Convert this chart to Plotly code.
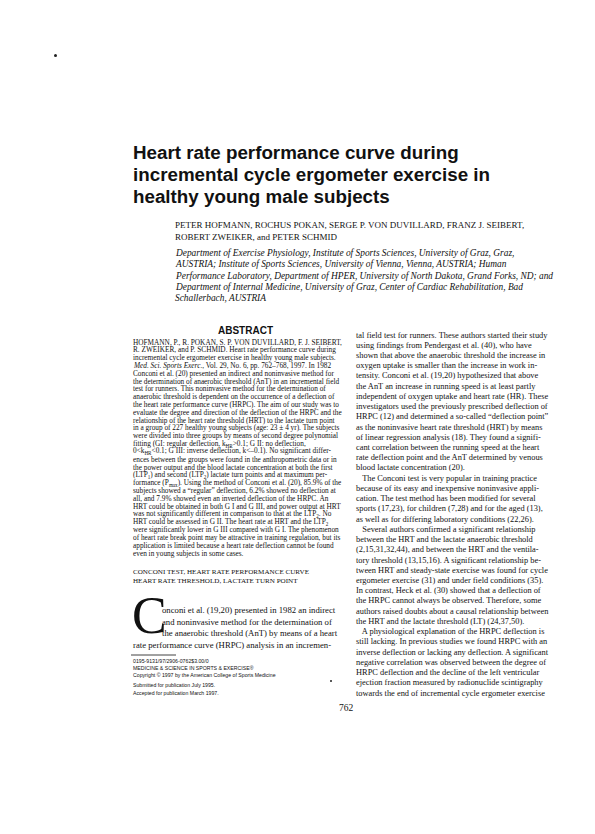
import plotly.graph_objects as go

title_lines = ["Heart rate performance curve during",
               "incremental cycle ergometer exercise in",
               "healthy young male subjects"]

author_lines = ["PETER HOFMANN, ROCHUS POKAN, SERGE P. VON DUVILLARD, FRANZ J. SEIBERT,",
                "ROBERT ZWEIKER, and PETER SCHMID"]

affil_lines = ["Department of Exercise Physiology, Institute of Sports Sciences, University of Graz, Graz,",
               "AUSTRIA; Institute of Sports Sciences, University of Vienna, Vienna, AUSTRIA; Human",
               "Performance Laboratory, Department of HPER, University of North Dakota, Grand Forks, ND; and",
               "Department of Internal Medicine, University of Graz, Center of Cardiac Rehabilitation, Bad",
               "Schallerbach, AUSTRIA"]

abstract_lines = [
    "HOFMANN, P., R. POKAN, S. P. VON DUVILLARD, F. J. SEIBERT,",
    "R. ZWEIKER, and P. SCHMID. Heart rate performance curve during",
    "incremental cycle ergometer exercise in healthy young male subjects.",
    "<i>Med. Sci. Sports Exerc.</i>, Vol. 29, No. 6, pp. 762–768, 1997. In 1982",
    "Conconi et al. (20) presented an indirect and noninvasive method for",
    "the determination of anaerobic threshold (AnT) in an incremental field",
    "test for runners. This noninvasive method for the determination of",
    "anaerobic threshold is dependent on the occurrence of a deflection of",
    "the heart rate performance curve (HRPC). The aim of our study was to",
    "evaluate the degree and direction of the deflection of the HRPC and the",
    "relationship of the heart rate threshold (HRT) to the lactate turn point",
    "in a group of 227 healthy young subjects (age: 23 ± 4 yr). The subjects",
    "were divided into three groups by means of second degree polynomial",
    "fitting (GI: regular deflection, k<sub>HR</sub>>0.1; G II: no deflection,",
    "0<k<sub>HR</sub><0.1; G III: inverse deflection, k<–0.1). No significant differ-",
    "ences between the groups were found in the anthropometric data or in",
    "the power output and the blood lactate concentration at both the first",
    "(LTP<sub>1</sub>) and second (LTP<sub>2</sub>) lactate turn points and at maximum per-",
    "formance (P<sub>max</sub>). Using the method of Conconi et al. (20), 85.9% of the",
    "subjects showed a “regular” deflection, 6.2% showed no deflection at",
    "all, and 7.9% showed even an inverted deflection of the HRPC. An",
    "HRT could be obtained in both G I and G III, and power output at HRT",
    "was not significantly different in comparison to that at the LTP<sub>2</sub>. No",
    "HRT could be assessed in G II. The heart rate at HRT and the LTP<sub>2</sub>",
    "were significantly lower in G III compared with G I. The phenomenon",
    "of heart rate break point may be attractive in training regulation, but its",
    "application is limited because a heart rate deflection cannot be found",
    "even in young subjects in some cases."]

keyword_lines = ["CONCONI TEST, HEART RATE PERFORMANCE CURVE",
                 "HEART RATE THRESHOLD, LACTATE TURN POINT"]

intro_lines = ["onconi et al. (19,20) presented in 1982 an indirect",
               "and noninvasive method for the determination of",
               "the anaerobic threshold (AnT) by means of a heart",
               "rate performance curve (HRPC) analysis in an incremen-"]

footer_lines = ["0195-9131/97/2906-0762$3.00/0",
                "MEDICINE & SCIENCE IN SPORTS & EXERCISE®",
                "Copyright © 1997 by the American College of Sports Medicine",
                "Submitted for publication July 1995.",
                "Accepted for publication March 1997."]

right_lines = [
    "tal field test for runners. These authors started their study",
    "using findings from Pendergast et al. (40), who have",
    "shown that above the anaerobic threshold the increase in",
    "oxygen uptake is smaller than the increase in work in-",
    "tensity. Conconi et al. (19,20) hypothesized that above",
    "the AnT an increase in running speed is at least partly",
    "independent of oxygen uptake and heart rate (HR). These",
    "investigators used the previously prescribed deflection of",
    "HRPC (12) and determined a so-called “deflection point”",
    "as the noninvasive heart rate threshold (HRT) by means",
    "of linear regression analysis (18). They found a signifi-",
    "cant correlation between the running speed at the heart",
    "rate deflection point and the AnT determined by venous",
    "blood lactate concentration (20).",
    "   The Conconi test is very popular in training practice",
    "because of its easy and inexpensive noninvasive appli-",
    "cation. The test method has been modified for several",
    "sports (17,23), for children (7,28) and for the aged (13),",
    "as well as for differing laboratory conditions (22,26).",
    "   Several authors confirmed a significant relationship",
    "between the HRT and the lactate anaerobic threshold",
    "(2,15,31,32,44), and between the HRT and the ventila-",
    "tory threshold (13,15,16). A significant relationship be-",
    "tween HRT and steady-state exercise was found for cycle",
    "ergometer exercise (31) and under field conditions (35).",
    "In contrast, Heck et al. (30) showed that a deflection of",
    "the HRPC cannot always be observed. Therefore, some",
    "authors raised doubts about a causal relationship between",
    "the HRT and the lactate threshold (LT) (24,37,50).",
    "   A physiological explanation of the HRPC deflection is",
    "still lacking. In previous studies we found HRPC with an",
    "inverse deflection or lacking any deflection. A significant",
    "negative correlation was observed between the degree of",
    "HRPC deflection and the decline of the left ventricular",
    "ejection fraction measured by radionuclide scintigraphy",
    "towards the end of incremental cycle ergometer exercise"]

page_number = "762"

SERIF = "Liberation Serif"
SANS = "Liberation Sans"

fig = go.Figure()
ann = []


def add_block(lines, x, y0, step, size, family, color="#111", style="normal", bold=False):
    for i, t in enumerate(lines):
        if style == "italic":
            t = "<i>" + t + "</i>"
        if bold:
            t = "<b>" + t + "</b>"
        ann.append(dict(x=x, y=y0 + i * step, text=t, showarrow=False, xanchor="left",
                        yanchor="middle", font=dict(family=family, size=size, color=color)))


add_block(title_lines, 123, 144, 22, 18.8, SANS, bold=True)
add_block(author_lines, 165, 217, 11.5, 9, SERIF)
add_block(affil_lines, 165, 245, 11.3, 9.4, SERIF, style="italic")
ann.append(dict(x=237, y=322, text="<b>ABSTRACT</b>", showarrow=False, xanchor="center",
                font=dict(family=SANS, size=10, color="#111")))
add_block(abstract_lines, 123, 334, (545 - 334) / (len(abstract_lines) - 1), 7.3, SERIF)
add_block(keyword_lines, 123, 564, 9, 7.1, SERIF)
ann.append(dict(x=122, y=607, text="C", showarrow=False, xanchor="left", yanchor="middle",
                font=dict(family=SERIF, size=52, color="#111")))
add_block(intro_lines[:3], 152, 602, 11.6, 8.7, SERIF)
add_block(intro_lines[3:], 123, 637, 11.6, 8.7, SERIF)
add_block(footer_lines[:3], 123, 653, 7, 5.2, SANS)
add_block(footer_lines[3:], 123, 677, 7.5, 5.2, SANS)
add_block(right_lines, 346, 327, (685 - 327) / (len(right_lines) - 1), 8.4, SERIF)
ann.append(dict(x=338, y=700, text=page_number, showarrow=False, xanchor="center",
                font=dict(family=SERIF, size=9.5, color="#111")))

fig.add_shape(type="line", x0=123, x1=168, y0=647, y1=647, line=dict(color="#111", width=0.8))
fig.add_shape(type="circle", x0=46, x1=49, y0=46, y1=49, fillcolor="#222", line=dict(width=0))
fig.add_shape(type="circle", x0=322, x1=324, y0=672, y1=674, fillcolor="#222", line=dict(width=0))

fig.update_layout(width=595, height=834, margin=dict(l=0, r=0, t=0, b=0),
                  paper_bgcolor="white", plot_bgcolor="white", annotations=ann,
                  xaxis=dict(range=[0, 595], visible=False, fixedrange=True),
                  yaxis=dict(range=[834, 0], visible=False, fixedrange=True),
                  showlegend=False)
fig.write_html("out.html", config={"displayModeBar": False})
